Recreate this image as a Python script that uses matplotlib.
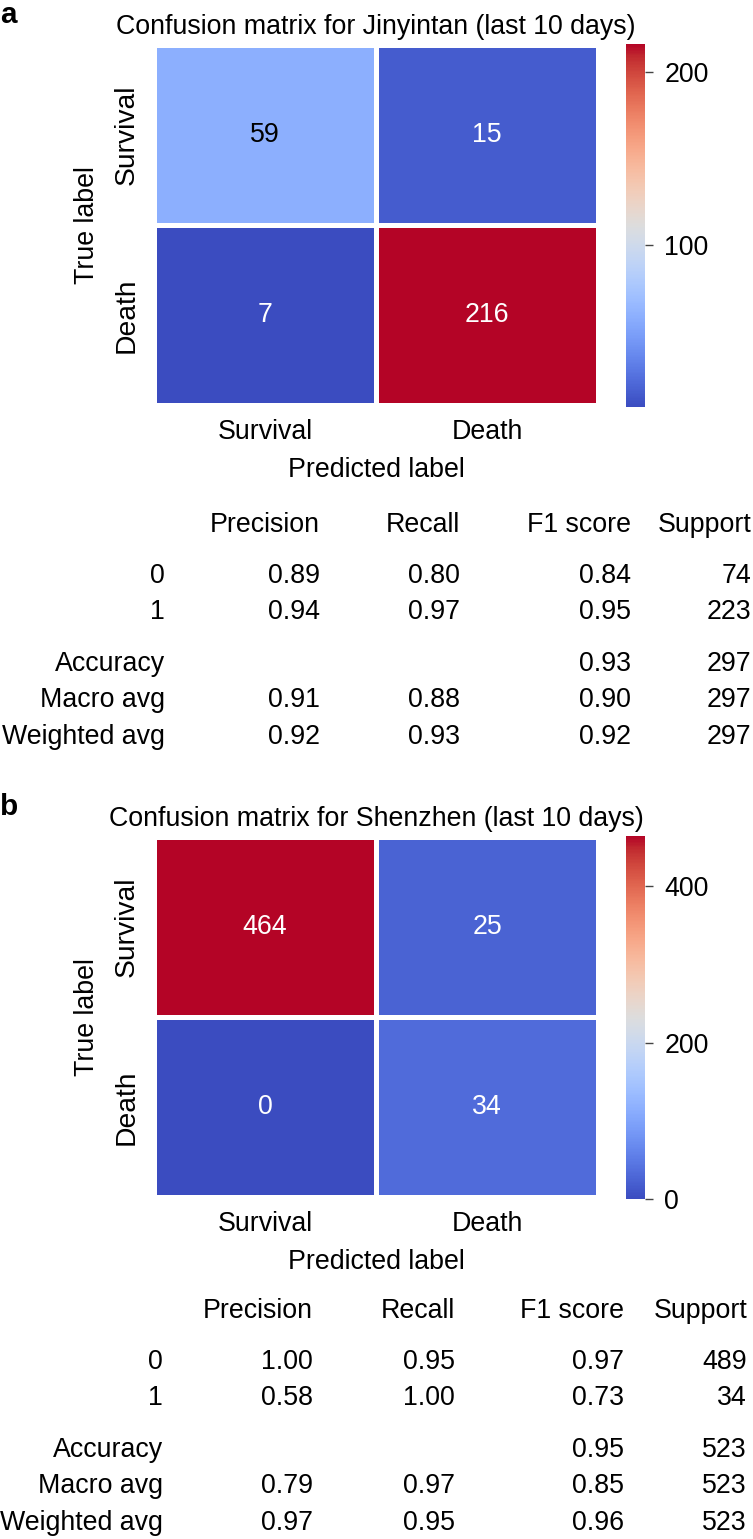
import matplotlib
matplotlib.use("Agg")
import matplotlib.pyplot as plt
import numpy as np

plt.rcParams['font.family'] = ['Liberation Sans', 'DejaVu Sans']

# confusion matrices (rows = true, cols = predicted)
class_names = ['Survival', 'Death']
cm_jinyintan = [[59, 15],
                [7, 216]]
cm_shenzhen = [[464, 25],
               [0, 34]]

# classification reports
report_cols = ['Precision', 'Recall', 'F1 score', 'Support']
report_rows = ['0', '1', 'Accuracy', 'Macro avg', 'Weighted avg']
report_jinyintan = [['0.89', '0.80', '0.84', '74'],
                    ['0.94', '0.97', '0.95', '223'],
                    ['', '', '0.93', '297'],
                    ['0.91', '0.88', '0.90', '297'],
                    ['0.92', '0.93', '0.92', '297']]
report_shenzhen = [['1.00', '0.95', '0.97', '489'],
                   ['0.58', '1.00', '0.73', '34'],
                   ['', '', '0.95', '523'],
                   ['0.79', '0.97', '0.85', '523'],
                   ['0.97', '0.95', '0.96', '523']]

W, H = 753, 1539
fig = plt.figure(figsize=(W / 100, H / 100), dpi=100)
FS = 19.3


def px_axes(x0, y0, x1, y1):
    # pixel box (top-left origin) -> figure axes
    return fig.add_axes([x0 / W, 1 - y1 / H, (x1 - x0) / W, (y1 - y0) / H])


def draw_cm(cm, top, title, letter, cbar_ticks):
    cm = np.array(cm)
    ax = px_axes(154, top, 598, top + 360)
    cax = px_axes(626, top - 1, 645, top + 362)
    mesh = ax.pcolormesh(cm, cmap='coolwarm', vmin=cm.min(), vmax=cm.max(),
                         edgecolors='white', linewidth=2.5)
    ax.set_xlim(0, 2)
    ax.set_ylim(2, 0)
    norm = mesh.norm
    for i in range(2):
        for j in range(2):
            v = cm[i, j]
            col = 'white' if abs(norm(v) - 0.5) > 0.3 else 'black'
            ax.text(j + 0.5, i + 0.5, str(v), ha='center', va='center',
                    fontsize=FS, color=col)
    ax.set_xticks([0.5, 1.5])
    ax.set_xticklabels(class_names, fontsize=FS)
    ax.set_yticks([0.5, 1.5])
    ax.set_yticklabels(class_names, fontsize=FS + 1, rotation=90, va='center')
    ax.tick_params(length=0, pad=10)
    for s in ax.spines.values():
        s.set_visible(False)
    ax.set_xlabel('Predicted label', fontsize=FS, labelpad=9)
    ax.set_ylabel('True label', fontsize=FS, labelpad=10)
    ax.set_title(title, fontsize=FS, pad=8)
    cb = fig.colorbar(mesh, cax=cax)
    cb.outline.set_visible(False)
    cb.set_ticks(cbar_ticks)
    cb.ax.tick_params(labelsize=FS, length=6, width=1, color='#444444', pad=8)
    fig.text(0, 1 - (top - 30) / H, letter, fontsize=FS + 2,
             fontweight='bold', ha='left', va='center')


def draw_report(report, y_header, y_rows, label_right, col_rights):
    for k, name in enumerate(report_cols):
        fig.text(col_rights[k] / W, 1 - y_header / H, name, ha='right',
                 va='center', fontsize=FS)
    for r, row in enumerate(report):
        y = 1 - y_rows[r] / H
        fig.text(label_right / W, y, report_rows[r], ha='right', va='center',
                 fontsize=FS)
        for k, val in enumerate(row):
            fig.text(col_rights[k] / W, y, val, ha='right', va='center',
                     fontsize=FS)


draw_cm(cm_jinyintan, 45, 'Confusion matrix for Jinyintan (last 10 days)',
        'a', [100, 200])
draw_report(report_jinyintan, 525, [576, 612, 664, 700, 737], 165,
            [320, 460, 631, 751])

draw_cm(cm_shenzhen, 837, 'Confusion matrix for Shenzhen (last 10 days)',
        'b', [0, 200, 400])
draw_report(report_shenzhen, 1311, [1362, 1398, 1450, 1486, 1523], 163,
            [313, 455, 624, 747])

fig.savefig('out.png', dpi=100)
